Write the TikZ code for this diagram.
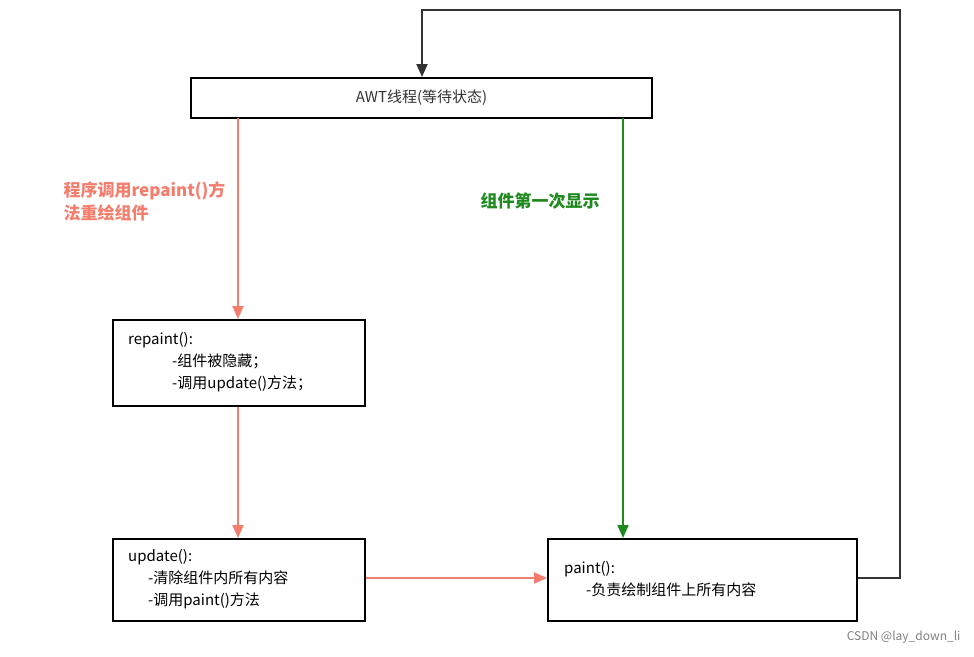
\documentclass[tikz,border=0pt]{standalone}
\usepackage{fontspec}
\setmainfont{Noto Sans CJK SC}
\usetikzlibrary{arrows.meta}
\definecolor{sal}{HTML}{F47E6E}
\definecolor{grn}{HTML}{1E8A1E}
\definecolor{dk}{HTML}{333333}
\begin{document}
\begin{tikzpicture}[x=1pt,y=-1pt,
  box/.style={draw=black,line width=2pt,inner sep=0pt,font=\fontsize{15}{18}\selectfont},
  txt/.style={anchor=north west,align=left,font=\fontsize{15}{22}\selectfont,inner sep=0pt},
  ar/.style={line width=2pt,-{Triangle[length=13pt,width=11pt]}}]
\useasboundingbox[fill=white] (0,0) rectangle (974,656);
\node[box,minimum width=461pt,minimum height=40pt,text=dk] (awt) at (421.5,98) {AWT线程(等待状态)};
\node[box,minimum width=252pt,minimum height=86pt] (rp) at (239,363) {};
\node[txt] (rpt) at (128,332) {repaint():\\\hspace{44pt}-组件被隐藏；\\\hspace{44pt}-调用update()方法；};
\node[box,minimum width=252pt,minimum height=82pt] (up) at (239,580) {};
\node[txt] (upt) at (128,549) {update():\\\hspace{20pt}-清除组件内所有内容\\\hspace{20pt}-调用paint()方法};
\node[box,minimum width=309pt,minimum height=82pt] (pa) at (702.5,580) {};
\node[txt] (pat) at (564,561) {paint():\\\hspace{22pt}-负责绘制组件上所有内容};
\draw[ar,sal] (238,118) -- (rp.north -| 238,0);
\draw[ar,sal] (rp.south -| 238,0) -- (up.north -| 238,0);
\draw[ar,sal] (up.east |- 0,578) -- (pa.west |- 0,578);
\draw[ar,grn] (623,118) -- (pa.north -| 623,0);
\coordinate (c1) at (900,578);
\coordinate (c2) at (900,10);
\coordinate (c3) at (422,10);
\draw[ar,dk] (pa.east |- c1) -- (c1) -- (c2) -- (c3) -- (awt.north -| c3);
\node[text=sal,align=left,anchor=west,font=\fontsize{17}{23}\selectfont\bfseries] (l1) at (60,201) {程序调用repaint()方\\法重绘组件};
\node[text=grn,anchor=west,font=\fontsize{17}{20}\selectfont\bfseries] (l2) at (477,201) {组件第一次显示};
\node[text=gray,anchor=east,font=\fontsize{12}{14}\selectfont] (wm) at (964,637) {CSDN @lay\_down\_li};
\end{tikzpicture}
\end{document}
